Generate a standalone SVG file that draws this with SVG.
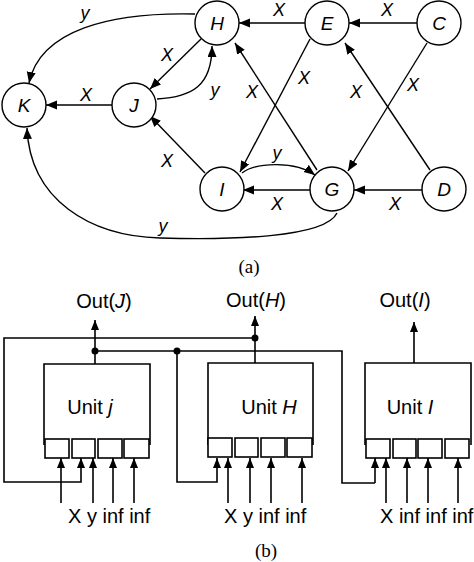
<svg xmlns="http://www.w3.org/2000/svg" width="474" height="562" viewBox="0 0 474 562">
<defs>
<marker id="ah" markerUnits="userSpaceOnUse" markerWidth="12" markerHeight="10" refX="11" refY="4.5" orient="auto">
<path d="M0,0 L11,4.5 L0,9 z" fill="#000"/>
</marker>
<marker id="ab" markerUnits="userSpaceOnUse" markerWidth="11" markerHeight="9" refX="10" refY="4" orient="auto">
<path d="M0,0 L10,4 L0,8 z" fill="#000"/>
</marker>
<style>
.n{fill:#fff;stroke:#000;stroke-width:1.4}
.nl{font-family:"Liberation Sans",Arial,sans-serif;font-style:italic;font-size:19px;text-anchor:middle}
.el{font-family:"Liberation Sans",Arial,sans-serif;font-style:italic;font-size:18px;text-anchor:middle}
.e{fill:none;stroke:#000;stroke-width:1.4;marker-end:url(#ah)}
.w{fill:none;stroke:#000;stroke-width:1.6}
.wa{fill:none;stroke:#000;stroke-width:1.6;marker-end:url(#ab)}
.bx{fill:#fff;stroke:#000;stroke-width:1.6}
.t{font-family:"Liberation Sans",Arial,sans-serif;font-size:20px}
.cap{font-family:"Liberation Serif","Times New Roman",serif;font-size:19px;text-anchor:middle}
</style>
</defs>

<g id="connectors">
<line class="e" x1="417" y1="23" x2="349" y2="23"/>
<line class="e" x1="305" y1="23" x2="239" y2="23"/>
<line class="e" x1="201" y1="39" x2="150" y2="89"/>
<line class="e" x1="112" y1="105" x2="46" y2="105"/>
<line class="e" x1="205" y1="173" x2="150" y2="116"/>
<line class="e" x1="310" y1="190" x2="243" y2="190"/>
<line class="e" x1="422" y1="190" x2="354" y2="190"/>
<line class="e" x1="310" y1="39" x2="240" y2="172"/>
<line class="e" x1="317" y1="170" x2="235" y2="43"/>
<line class="e" x1="427" y1="43" x2="348" y2="171"/>
<line class="e" x1="430" y1="170" x2="345" y2="43"/>
<path class="e" d="M157,99 C192,97 212,86 212,46"/>
<path class="e" d="M195,14 C110,12 40,30 29,83"/>
<path class="e" d="M242,173 C256,162 296,161 315,175"/>
<path class="e" d="M337,213 C325,238 230,240 160,238 C90,236 30,200 27,128"/>
<text class="el" x="85" y="19">y</text>
<text class="el" x="167" y="61">X</text>
<text class="el" x="86" y="101">X</text>
<text class="el" x="215" y="96">y</text>
<text class="el" x="279" y="16">X</text>
<text class="el" x="387" y="16">X</text>
<text class="el" x="304" y="84">X</text>
<text class="el" x="252" y="98">X</text>
<text class="el" x="356" y="98">X</text>
<text class="el" x="413" y="91">X</text>
<text class="el" x="167" y="167">X</text>
<text class="el" x="277" y="159">y</text>
<text class="el" x="277" y="210">X</text>
<text class="el" x="395" y="210">X</text>
<text class="el" x="163" y="232">y</text>
</g>

<g id="node-H"><circle class="n" cx="217" cy="23" r="22"/><text class="nl" x="217" y="30">H</text></g>
<g id="node-E"><circle class="n" cx="327" cy="23" r="22"/><text class="nl" x="327" y="30">E</text></g>
<g id="node-C"><circle class="n" cx="439" cy="23" r="22"/><text class="nl" x="439" y="30">C</text></g>
<g id="node-K"><circle class="n" cx="24" cy="105" r="22"/><text class="nl" x="24" y="112">K</text></g>
<g id="node-J"><circle class="n" cx="134" cy="105" r="22"/><text class="nl" x="134" y="112">J</text></g>
<g id="node-I"><circle class="n" cx="222" cy="189" r="22"/><text class="nl" x="222" y="196">I</text></g>
<g id="node-G"><circle class="n" cx="332" cy="189" r="22"/><text class="nl" x="332" y="196">G</text></g>
<g id="node-D"><circle class="n" cx="444" cy="189" r="22"/><text class="nl" x="444" y="196">D</text></g>

<text class="cap" x="249" y="273">(a)</text>

<g id="wires">
<line class="wa" x1="95" y1="364" x2="95" y2="320"/>
<line class="wa" x1="255" y1="363" x2="255" y2="316"/>
<line class="wa" x1="414" y1="363" x2="414" y2="322"/>
<path class="wa" d="M255,338 H4 V482 H81 V458"/>
<path class="w" d="M95,351 H342 V483 H375"/>
<path class="wa" d="M375,483 V458"/>
<path class="wa" d="M177,351 V482 H217 V458"/>
<circle cx="95" cy="351" r="3.5"/>
<circle cx="177" cy="351" r="3.5"/>
<circle cx="255" cy="338" r="3.5"/>
<line class="wa" x1="61" y1="503" x2="61" y2="458"/>
<line class="wa" x1="93" y1="503" x2="93" y2="458"/>
<line class="wa" x1="113" y1="503" x2="113" y2="458"/>
<line class="wa" x1="134" y1="503" x2="134" y2="458"/>
<line class="wa" x1="228" y1="503" x2="228" y2="458"/>
<line class="wa" x1="250" y1="503" x2="250" y2="458"/>
<line class="wa" x1="271" y1="503" x2="271" y2="458"/>
<line class="wa" x1="302" y1="503" x2="302" y2="458"/>
<line class="wa" x1="386" y1="503" x2="386" y2="458"/>
<line class="wa" x1="407" y1="503" x2="407" y2="458"/>
<line class="wa" x1="428" y1="503" x2="428" y2="458"/>
<line class="wa" x1="458" y1="503" x2="458" y2="458"/>
</g>

<text class="t" x="104" y="308" text-anchor="middle">Out(<tspan font-style="italic">J</tspan>)</text>
<text class="t" x="256" y="307" text-anchor="middle">Out(<tspan font-style="italic">H</tspan>)</text>
<text class="t" x="405" y="307" text-anchor="middle">Out(<tspan font-style="italic">I</tspan>)</text>

<g id="unit-j">
<path class="w" d="M44,445 V364 H150 V445"/>
<rect class="bx" x="45" y="439" width="24" height="19"/>
<rect class="bx" x="72" y="439" width="23" height="19"/>
<rect class="bx" x="98" y="439" width="24" height="19"/>
<rect class="bx" x="124" y="439" width="25" height="19"/>
<text class="t" x="90" y="414" text-anchor="middle">Unit <tspan font-style="italic">j</tspan></text>
</g>
<g id="unit-H">
<path class="w" d="M208,445 V363 H313 V445"/>
<rect class="bx" x="208" y="438" width="24" height="19"/>
<rect class="bx" x="235" y="438" width="23" height="19"/>
<rect class="bx" x="261" y="438" width="24" height="19"/>
<rect class="bx" x="287" y="438" width="25" height="19"/>
<text class="t" x="269" y="414" text-anchor="middle">Unit <tspan font-style="italic">H</tspan></text>
</g>
<g id="unit-I">
<path class="w" d="M365,445 V363 H471 V445"/>
<rect class="bx" x="366" y="439" width="24" height="19"/>
<rect class="bx" x="393" y="439" width="23" height="19"/>
<rect class="bx" x="418" y="439" width="24" height="19"/>
<rect class="bx" x="445" y="439" width="24" height="19"/>
<text class="t" x="410" y="414" text-anchor="middle">Unit <tspan font-style="italic">I</tspan></text>
</g>

<text class="t" x="68" y="523">X y inf inf</text>
<text class="t" x="224" y="523">X y inf inf</text>
<text class="t" x="380" y="523">X inf inf inf</text>

<text class="cap" x="266" y="557">(b)</text>
</svg>
